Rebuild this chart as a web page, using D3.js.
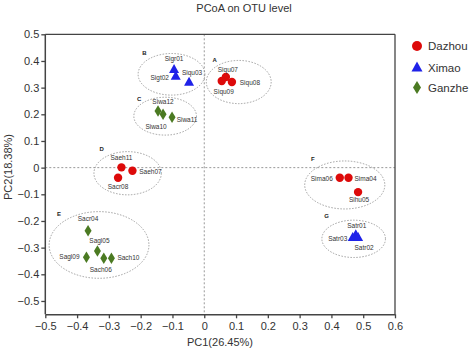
<!DOCTYPE html>
<html><head><meta charset="utf-8">
<script src="https://cdn.jsdelivr.net/npm/d3@7"></script>
<style>body{margin:0;background:#fff;} svg{display:block;font-family:"Liberation Sans",Arial,sans-serif;}</style>
</head><body><svg id="c" width="474" height="354"></svg>
<script>
// ---- data ----
const groups = ["Dazhou", "Ximao", "Ganzhe"];
const groupColors = ["#dd0a0a", "#1f22e8", "#4b7a22"];
const groupShapes = ["circle", "triangle", "diamond"];

const dazhouNames = ["Siqu07","Siqu09","Siqu08","Saeh11","Saeh07","Sacr08","Sima06","Sima04","Sihu05"];
const dazhouX = [0.068, 0.055, 0.087, -0.2605, -0.2259, -0.2711, 0.4263, 0.4537, 0.4838];
const dazhouY = [0.340, 0.325, 0.321, 0.001, -0.0116, -0.0379, -0.0379, -0.0379, -0.0918];

const ximaoNames = ["Sigr01","Sigt02","Siqu03","Satr01","Satr03","Satr02"];
const ximaoX = [-0.0950, -0.0897, -0.0478, 0.4766, 0.467, 0.484];
const ximaoY = [0.3686, 0.3435, 0.3206, -0.251, -0.262, -0.262];

const ganzheNames = ["Siwa12","Siwa10","Siwa11","Sacr04","Sagl05","Sach06","Sach10","Sagl09"];
const ganzheX = [-0.1454, -0.1296, -0.1013, -0.3655, -0.336, -0.316, -0.292, -0.3706];
const ganzheY = [0.212, 0.200, 0.189, -0.2366, -0.3127, -0.340, -0.340, -0.336];

// cluster ellipses (data units)
const clusterLabels = ["A","B","C","D","E","F","G"];
const clusterCX = [0.1085, -0.103, -0.123, -0.241, -0.331, 0.442, 0.470];
const clusterCY = [0.321, 0.350, 0.193, -0.021, -0.290, -0.065, -0.267];
const clusterRX = [0.102, 0.105, 0.0985, 0.106, 0.157, 0.126, 0.100];
const clusterRY = [0.081, 0.078, 0.071, 0.081, 0.125, 0.090, 0.070];

const xTicks = [-0.5,-0.4,-0.3,-0.2,-0.1,0,0.1,0.2,0.3,0.4,0.5,0.6];
const yTicks = [0.5,0.4,0.3,0.2,0.1,0,-0.1,-0.2,-0.3,-0.4,-0.5];
const xTitle = "PC1(26.45%)";
const yTitle = "PC2(18.38%)";
const title = "PCoA on OTU level";

// label placement offsets in px (style)
const labelOffsets = {
  Siqu07:[2,-5], Siqu08:[18,3], Siqu09:[2,13], Saeh11:[0,-7], Saeh07:[18,3], Sacr08:[0,11],
  Sima06:[-18,3], Sima04:[17,3], Sihu05:[1,10],
  Sigr01:[0,-8], Sigt02:[-16,4], Siqu03:[3,-7], Satr01:[1,-7], Satr03:[-15,3.5], Satr02:[6,12.5],
  Siwa12:[5,-7], Siwa10:[-7,15], Siwa11:[15,5], Sacr04:[0,-10], Sagl05:[2,-8.5], Sach06:[-3,14],
  Sach10:[17,2], Sagl09:[-17,2]
};
const clusterLabelOffsets = {A:[-24,-20], B:[-27,-19], C:[-26,-15], D:[-26,-22], E:[-40,-29], F:[-32,-24], G:[-27,-21]};

// ---- build ----
const svg = d3.select("#c");
const L = 45.3, R = 395, T = 34.3, B = 314.3;
const x = d3.scaleLinear().domain([-0.5, 0.6]).range([L, R]);
const y = d3.scaleLinear().domain([-0.55, 0.5]).range([B, T]);
const axisColor = "#444";
const textColor = "#333";

svg.append("text").attr("x", 244).attr("y", 12).attr("text-anchor","middle")
  .attr("font-size", 11).attr("fill", textColor).text(title);

// zero lines
svg.append("line").attr("x1", x(0)).attr("x2", x(0)).attr("y1", T).attr("y2", B)
  .attr("stroke","#999").attr("stroke-width",1).attr("stroke-dasharray","2,2");
svg.append("line").attr("x1", L).attr("x2", R).attr("y1", y(0)).attr("y2", y(0))
  .attr("stroke","#999").attr("stroke-width",1).attr("stroke-dasharray","2,2");

// frame (top, right)
svg.append("line").attr("x1", L).attr("x2", R).attr("y1", T).attr("y2", T).attr("stroke", axisColor).attr("stroke-width",1.3);
svg.append("line").attr("x1", R).attr("x2", R).attr("y1", T).attr("y2", B).attr("stroke", axisColor).attr("stroke-width",1.3);

// axes
const xAxis = svg.append("g").attr("transform",`translate(0,${B})`)
  .call(d3.axisBottom(x).tickValues(xTicks).tickSize(4).tickSizeOuter(0).tickFormat(d => d3.format("")(+d.toFixed(1))));
const yAxis = svg.append("g").attr("transform",`translate(${L},0)`)
  .call(d3.axisLeft(y).tickValues(yTicks).tickSize(4).tickSizeOuter(0).tickFormat(d => d3.format("")(+d.toFixed(1))));
[xAxis, yAxis].forEach(g => {
  g.select(".domain").attr("stroke", axisColor).attr("stroke-width", 1.5);
  g.selectAll(".tick line").attr("stroke", axisColor).attr("stroke-width", 1.3);
  g.selectAll(".tick text").attr("fill", textColor).attr("font-size", 11).attr("font-family","Liberation Sans, Arial, sans-serif");
});
xAxis.selectAll(".tick text").attr("dy", "1em").attr("y", 5);
yAxis.selectAll(".tick text").attr("x", -6);
yAxis.select(".domain").attr("d", `M0,${B}V${T}`);

svg.append("text").attr("x", 220).attr("y", 346).attr("text-anchor","middle")
  .attr("font-size", 11).attr("fill", textColor).text(xTitle);
svg.append("text").attr("transform", `translate(12,167) rotate(-90)`).attr("text-anchor","middle")
  .attr("font-size", 11).attr("fill", textColor).text(yTitle);

// ellipses
const kx = x(1) - x(0), ky = y(0) - y(1);
clusterLabels.forEach((lab, i) => {
  const cx = x(clusterCX[i]), cy = y(clusterCY[i]);
  svg.append("ellipse").attr("cx", cx).attr("cy", cy)
    .attr("rx", clusterRX[i]*kx).attr("ry", clusterRY[i]*ky)
    .attr("fill","none").attr("stroke","#8a8a8a").attr("stroke-width",0.8).attr("stroke-dasharray","1.5,1.5");
  const o = clusterLabelOffsets[lab];
  svg.append("text").attr("x", cx + o[0]).attr("y", cy + o[1]).attr("font-size", 6)
    .attr("font-weight","bold").attr("fill","#222").attr("text-anchor","middle").text(lab);
});

// symbols
function drawShape(g, shape, px, py, color, s) {
  if (shape === "circle") {
    g.append("circle").attr("cx", px).attr("cy", py).attr("r", s.r).attr("fill", color);
  } else if (shape === "triangle") {
    const w = s.tw, h = s.th;
    g.append("path").attr("d", `M${px},${py - h*0.6}L${px + w/2},${py + h*0.4}L${px - w/2},${py + h*0.4}Z`).attr("fill", color);
  } else {
    const w = s.dw, h = s.dh;
    g.append("path").attr("d", `M${px},${py - h/2}L${px + w/2},${py}L${px},${py + h/2}L${px - w/2},${py}Z`).attr("fill", color);
  }
}
const ptSize = {r: 4.2, tw: 10, th: 9, dw: 7, dh: 11.5};
const series = [
  {names: dazhouNames, xs: dazhouX, ys: dazhouY},
  {names: ximaoNames, xs: ximaoX, ys: ximaoY},
  {names: ganzheNames, xs: ganzheX, ys: ganzheY}
];
const gPts = svg.append("g");
const gLab = svg.append("g");
series.forEach((s, gi) => {
  s.names.forEach((n, i) => {
    const px = x(s.xs[i]), py = y(s.ys[i]);
    drawShape(gPts, groupShapes[gi], px, py, groupColors[gi], ptSize);
    const o = labelOffsets[n] || [0, -7];
    gLab.append("text").attr("x", px + o[0]).attr("y", py + o[1]).attr("text-anchor","middle")
      .attr("font-size", 6.5).attr("fill", textColor).text(n);
  });
});

// legend
const legY = [46, 67.5, 87.5];
groups.forEach((gname, i) => {
  drawShape(svg, groupShapes[i], 417, legY[i], groupColors[i], {r: 5, tw: 11, th: 10, dw: 8, dh: 13});
  svg.append("text").attr("x", 428).attr("y", legY[i] + 4).attr("font-size", 11.5).attr("fill", textColor).text(gname);
});
</script></body></html>
